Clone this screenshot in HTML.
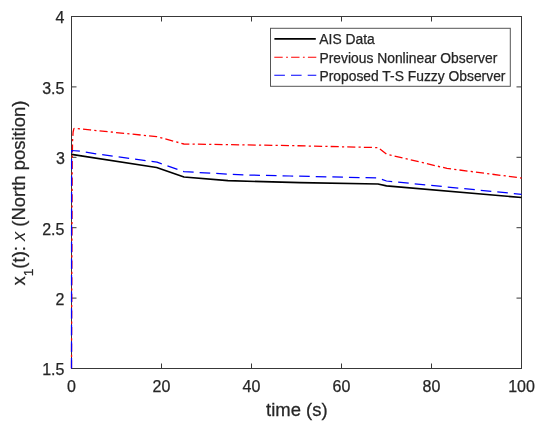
<!DOCTYPE html>
<html><head><meta charset="utf-8">
<style>
html,body{margin:0;padding:0;background:#fff;width:550px;height:423px;overflow:hidden}
svg{display:block}
text{font-family:"Liberation Sans",Arial,Helvetica,sans-serif;fill:#262626;stroke:#262626;stroke-width:0.25px}
</style></head>
<body>
<svg width="550" height="423" viewBox="0 0 550 423">
<rect x="0" y="0" width="550" height="423" fill="#fff"/>
<!-- ticks -->
<g stroke="#383838" stroke-width="1" fill="none">
<path d="M161.5,368.5V363.5M251.5,368.5V363.5M341.5,368.5V363.5M431.5,368.5V363.5
M161.5,16.5V21.5M251.5,16.5V21.5M341.5,16.5V21.5M431.5,16.5V21.5
M71.5,298.1H76.5M71.5,227.7H76.5M71.5,157.3H76.5M71.5,86.9H76.5
M521.5,298.1H516.5M521.5,227.7H516.5M521.5,157.3H516.5M521.5,86.9H516.5"/>
</g>
<!-- box -->
<rect x="71.5" y="16.5" width="450" height="352" fill="none" stroke="#383838" stroke-width="1"/>
<!-- data -->
<g fill="none" stroke-linejoin="round">
<path id="black" stroke="#000" stroke-width="1.7" d="M71.5,154.3 L156.6,167.5 L184,177 L228,180.7 L300,182.7 L378,184 L386.5,185.8 L521.5,197.5"/>
<path id="red" stroke="#f00" stroke-width="1.3" stroke-dasharray="8.1 3.2 2.2 3.1" stroke-dashoffset="16.4" d="M71.5,368.5 L72.2,160 L72.6,140 L73.1,132 L73.9,128.6 L75,128.4 L90,129.9 L156.6,136.6 L183.9,144 L290,145.6 L378,147.6 L386.5,154.1 L447,168.4 L521.5,178"/>
<path id="blue" stroke="#00f" stroke-width="1.25" stroke-dasharray="10.6 6" stroke-dashoffset="0.1" d="M71.5,368.5 L71.6,150.5 L80,151.2 L96,153.9 L157,162.2 L184,171.7 L245,175 L290,176 L378,178 L386.5,181 L521.5,194.3"/>
</g>
<!-- tick labels -->
<g font-size="16" text-anchor="middle">
<text x="71.5" y="391.6">0</text>
<text x="161.5" y="391.6">20</text>
<text x="251.5" y="391.6">40</text>
<text x="341.5" y="391.6">60</text>
<text x="431.5" y="391.6">80</text>
<text x="521.5" y="391.6">100</text>
</g>
<g font-size="16" text-anchor="end">
<text x="64.4" y="375">1.5</text>
<text x="64.4" y="304.6">2</text>
<text x="64.4" y="234.6">2.5</text>
<text x="64.9" y="164.2">3</text>
<text x="64.4" y="94.4">3.5</text>
<text x="64.4" y="23">4</text>
</g>
<text transform="translate(296.8,415.6) scale(1.05,1)" font-size="17.6" text-anchor="middle">time (s)</text>
<text transform="translate(24.8,193) rotate(-90) scale(1.049,1)" font-size="17.6" text-anchor="middle">x<tspan font-size="13" dy="8">1</tspan><tspan dy="-8">(t): <tspan font-style="italic" stroke-width="0">x</tspan> (North position)</tspan></text>
<!-- legend -->
<rect x="270.5" y="28.3" width="239.8" height="58" fill="#fff" stroke="#555" stroke-width="1"/>
<path d="M274.4,38.9H315.8" stroke="#000" stroke-width="1.7"/>
<path d="M274.3,57.2H316.3" stroke="#f00" stroke-width="1.1" stroke-dasharray="8.4 3.4 1.8 3.2"/>
<path d="M274.3,75.3H316.3" stroke="#00f" stroke-width="1.1" stroke-dasharray="10.6 6.1"/>
<g font-size="13.85">
<text x="319.3" y="44.3">AIS Data</text>
<text x="319.5" y="62.6">Previous Nonlinear Observer</text>
<text x="319.5" y="80.6">Proposed T-S Fuzzy Observer</text>
</g>
</svg>
</body></html>
